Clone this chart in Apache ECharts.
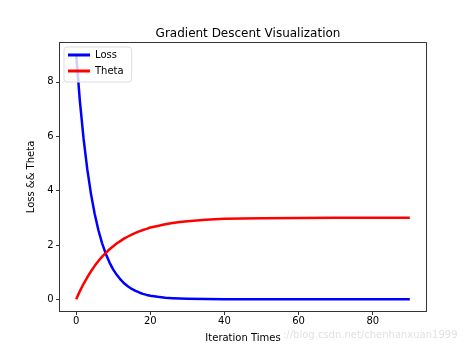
<!DOCTYPE html>
<html>
<head>
<meta charset="utf-8">
<script src="https://cdn.jsdelivr.net/npm/echarts@6/dist/echarts.min.js"></script>
<style>
  html, body { margin: 0; padding: 0; background: #fff; }
  #chart { width: 474px; height: 350px; }
</style>
</head>
<body>
<div id="chart"></div>
<script>
// Iteration numbers at which the two curves are sampled
const iterations = [0, 1, 2, 3, 4, 5, 6, 7, 8, 9, 10, 11, 12, 13, 14, 15, 16, 17, 18, 19, 20,
  22, 24, 26, 28, 30, 35, 40, 45, 50, 60, 70, 80, 90];
// Loss value at each sampled iteration
const lossValues = [9.00, 7.29, 5.90, 4.78, 3.87, 3.14, 2.54, 2.06, 1.67, 1.35, 1.09, 0.89, 0.72,
  0.58, 0.47, 0.38, 0.31, 0.25, 0.20, 0.16, 0.13, 0.09, 0.06, 0.04, 0.025, 0.016, 0.006, 0.002,
  0.001, 0.0, 0.0, 0.0, 0.0, 0.0];
// Theta value at each sampled iteration
const thetaValues = [0.00, 0.30, 0.57, 0.81, 1.03, 1.23, 1.41, 1.57, 1.71, 1.84, 1.95, 2.06, 2.15,
  2.24, 2.31, 2.38, 2.44, 2.50, 2.55, 2.59, 2.64, 2.70, 2.76, 2.81, 2.84, 2.87, 2.93, 2.96,
  2.97, 2.98, 2.99, 3.00, 3.00, 3.00];
// Axis tick labels
const xTicks = [0, 20, 40, 60, 80];
const yTicks = [0, 2, 4, 6, 8];

const pairs = (ys) => iterations.map((x, i) => [x, ys[i]]);
const font = 'DejaVu Sans';

const chart = echarts.init(document.getElementById('chart'), null, { renderer: 'canvas' });
chart.setOption({
  animation: false,
  backgroundColor: '#fff',
  title: {
    text: 'Gradient Descent Visualization',
    left: 243, top: 23, textAlign: 'center',
    textStyle: { fontFamily: font, fontSize: 12, fontWeight: 'normal', color: '#000' }
  },
  grid: {
    left: 59.5, right: 47.5, top: 42.5, bottom: 38.5,
    show: true, borderColor: '#333', borderWidth: 1, backgroundColor: 'transparent'
  },
  legend: {
    orient: 'vertical', left: 64, top: 47,
    backgroundColor: 'rgba(255,255,255,0.8)', borderColor: '#ddd', borderWidth: 1, borderRadius: 3,
    padding: [2, 8, 5, 4], itemGap: 4, itemWidth: 22, itemHeight: 3,
    icon: 'rect',
    textStyle: { fontFamily: font, fontSize: 10, color: '#000', lineHeight: 12 },
    data: ['Loss', 'Theta']
  },
  xAxis: {
    type: 'value', min: -4.5, max: 94.5,
    name: 'Iteration Times', nameLocation: 'middle', nameGap: 22,
    nameTextStyle: { fontFamily: font, fontSize: 10, color: '#000' },
    axisLine: { show: true, onZero: false, lineStyle: { color: '#333', width: 1 } },
    axisTick: { show: true, length: 3.5, customValues: xTicks, lineStyle: { color: '#333' } },
    axisLabel: { customValues: xTicks, fontFamily: font, fontSize: 10, color: '#000', margin: 5 },
    splitLine: { show: false }
  },
  yAxis: {
    type: 'value', min: -0.45, max: 9.45,
    name: 'Loss && Theta', nameLocation: 'middle', nameGap: 23, nameRotate: 90,
    nameTextStyle: { fontFamily: font, fontSize: 10, color: '#000' },
    axisLine: { show: true, onZero: false, lineStyle: { color: '#333', width: 1 } },
    axisTick: { show: true, length: 3.5, customValues: yTicks, lineStyle: { color: '#333' } },
    axisLabel: { customValues: yTicks, fontFamily: font, fontSize: 10, color: '#000', margin: 6 },
    splitLine: { show: false }
  },
  graphic: [{
    type: 'text', left: 283, top: 330,
    style: { text: '://blog.csdn.net/chenhanxuan1999', fontFamily: font, fontSize: 10, fill: '#e2e2e2' }
  }],
  series: [
    {
      name: 'Loss', type: 'line', data: pairs(lossValues),
      showSymbol: false, smooth: false,
      lineStyle: { color: '#0000ff', width: 2.5, join: 'round' }, itemStyle: { color: '#0000ff' }
    },
    {
      name: 'Theta', type: 'line', data: pairs(thetaValues),
      showSymbol: false, smooth: false,
      lineStyle: { color: '#ff0000', width: 2.5, join: 'round' }, itemStyle: { color: '#ff0000' }
    }
  ]
});
</script>
</body>
</html>
